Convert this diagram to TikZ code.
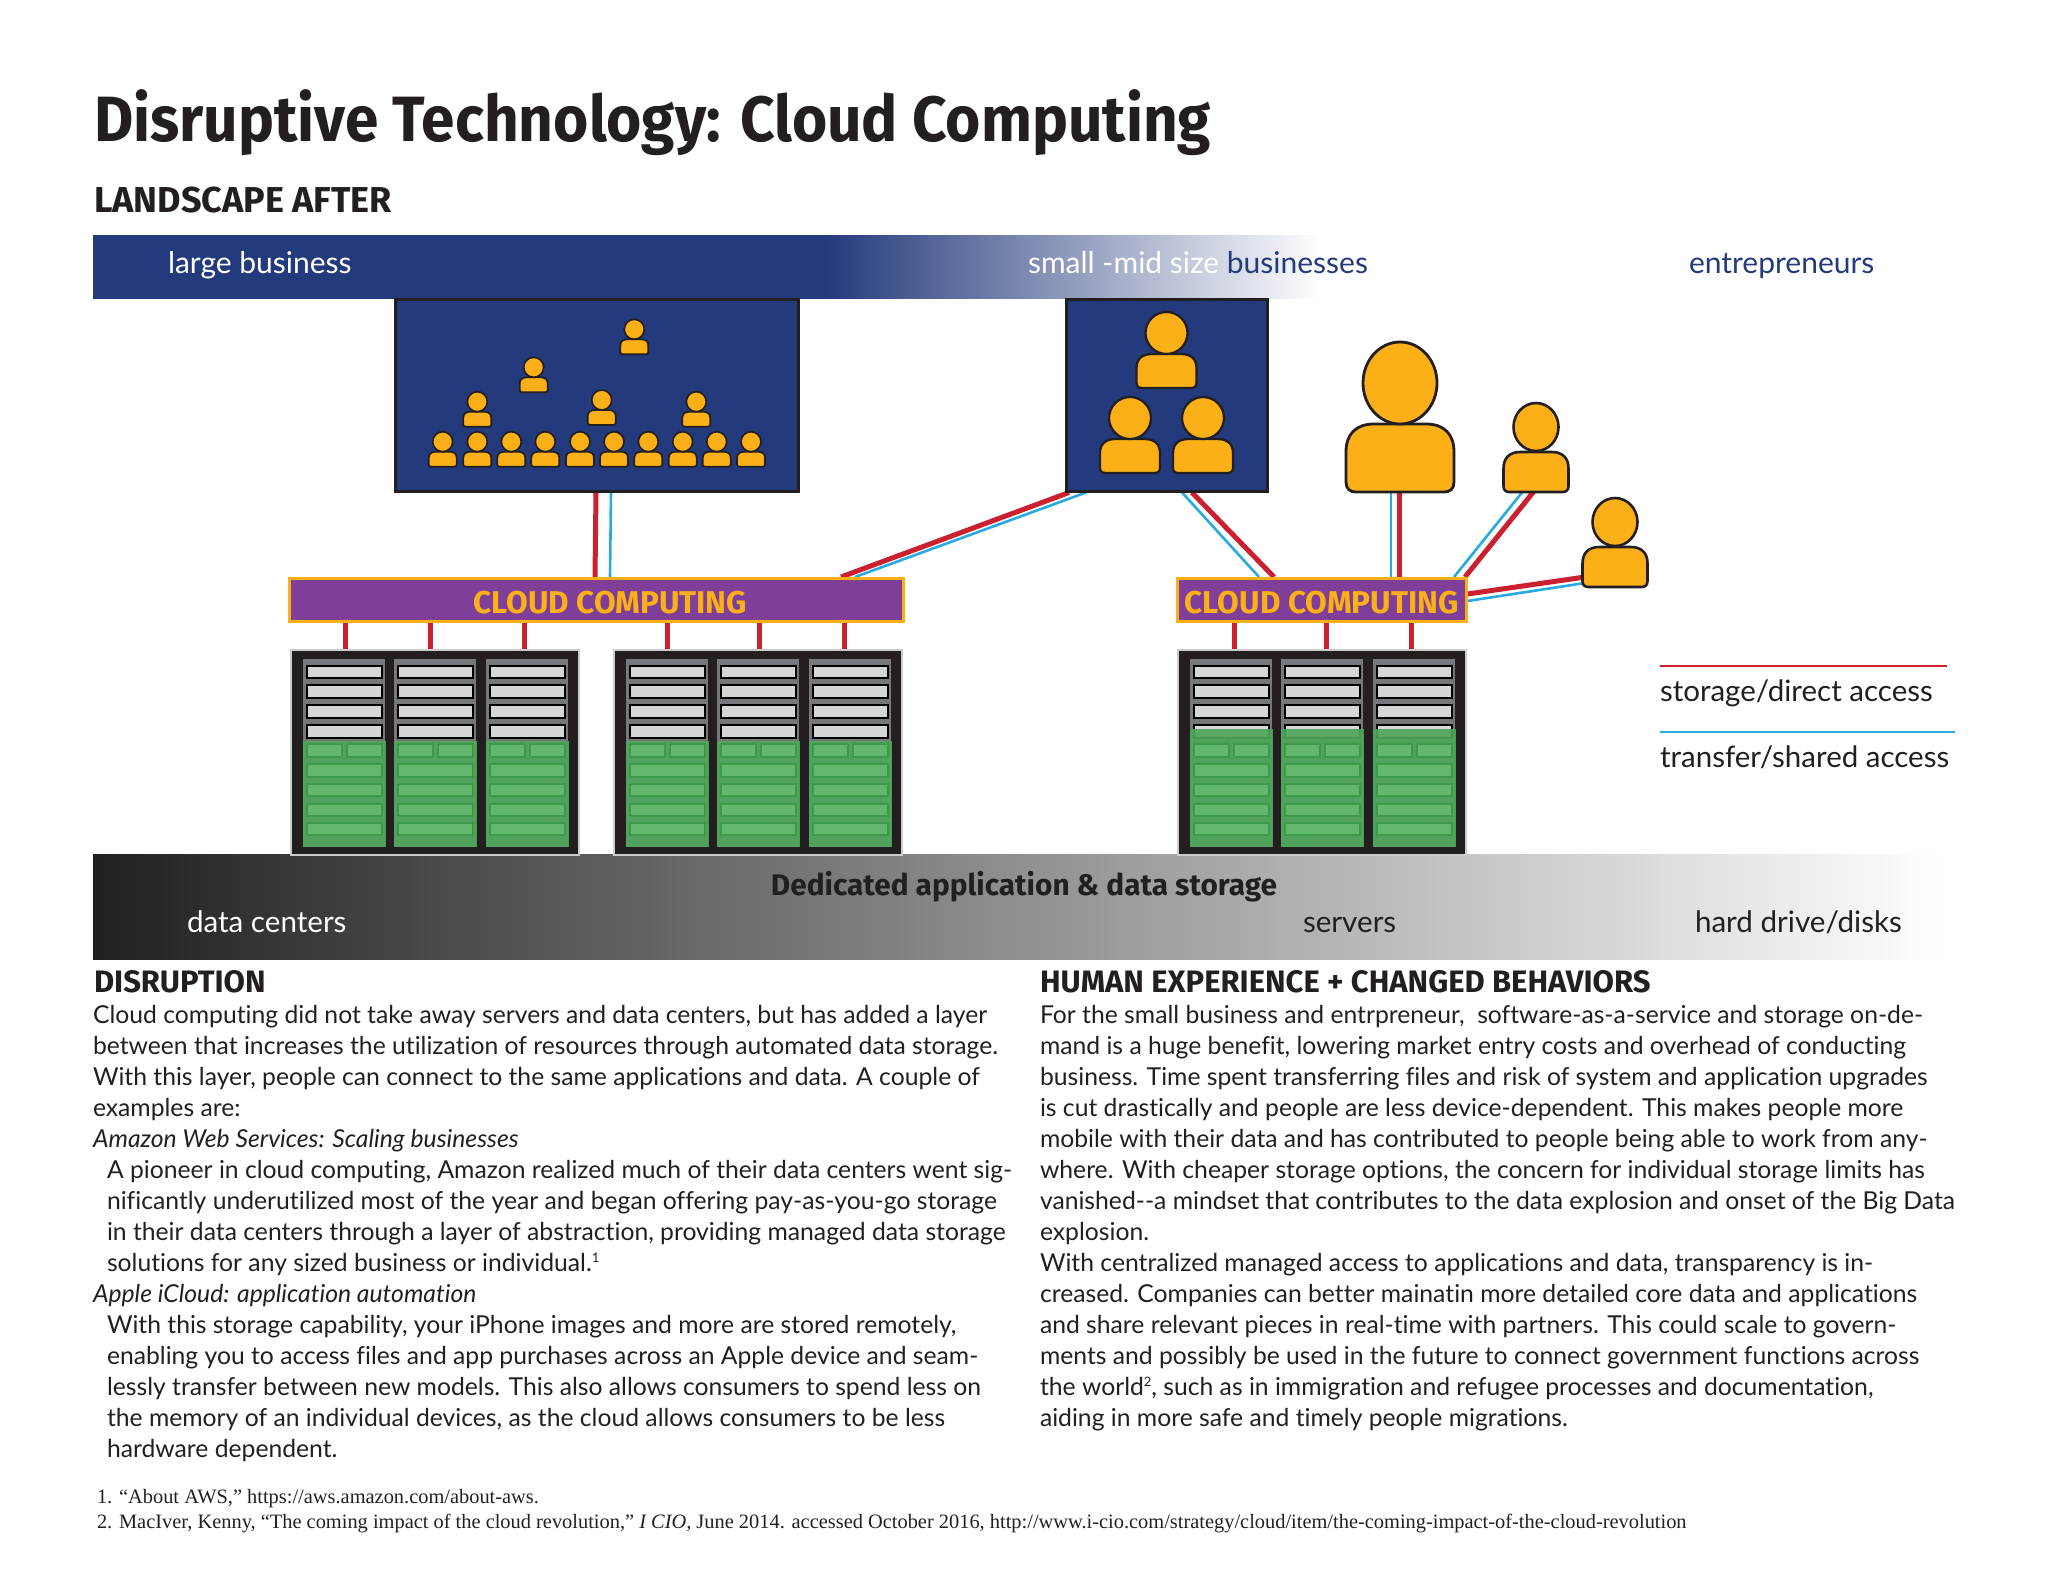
\documentclass[tikz,border=0pt]{standalone}
\usepackage{fontspec}
\usetikzlibrary{calc,backgrounds}
\setmainfont[Ligatures={TeX,NoCommon}]{Lato}
\newfontfamily\serifnote{Liberation Serif}
\newfontfamily\heavy[FakeStretch=0.943]{Fira Sans}
\newfontfamily\capsfont{Fira Sans}
\definecolor{ink}{HTML}{231F20}
\definecolor{navy}{HTML}{233A7C}
\definecolor{amber}{HTML}{FBB017}
\definecolor{plum}{HTML}{7F3F98}
\definecolor{linkred}{HTML}{CB2030}
\definecolor{linkblue}{HTML}{27AAE1}
\definecolor{rackgrey}{HTML}{77787B}
\definecolor{slotgrey}{HTML}{D6D6D8}
\definecolor{greenbase}{HTML}{4EA65A}
\definecolor{greenslot}{HTML}{64B86E}
\definecolor{greenedge}{HTML}{3D9A48}
\pgfdeclarehorizontalshading{topfade}{100bp}{color(0bp)=(navy); color(54.7bp)=(navy); color(75bp)=(white); color(100bp)=(white)}
\tikzset{
  x=1pt,y=-1pt,
  txt/.style={inner sep=0pt,outer sep=0pt,anchor=base west,text=ink},
  para/.style={txt,align=left,font=\fontsize{24.7}{31}\selectfont},
  head/.style={txt,font=\capsfont\fontsize{31}{31}\selectfont\bfseries},
  bandtxt/.style={txt,font=\fontsize{29.6}{31}\selectfont},
  toptxt/.style={txt,font=\fontsize{30}{31}\selectfont},
  note/.style={txt,align=left,font=\serifnote\fontsize{20.4}{25}\selectfont},
  cloudbar/.style={draw=amber,fill=plum,line width=2.5pt,inner sep=0pt,anchor=north west,text=amber,font=\capsfont\fontsize{31.5}{31}\selectfont\bfseries},
  bluebox/.style={draw=ink,fill=navy,line width=2.5pt,inner sep=0pt,anchor=north west},
  rackbox/.style={draw=black!20,fill=ink,line width=2pt,inner sep=0pt,anchor=north west,minimum width=288pt,minimum height=205pt},
  redlink/.style={draw=linkred,line width=5pt},
  bluelink/.style={draw=linkblue,line width=2.6pt},
}
\newcommand{\supmark}[1]{\raisebox{9pt}{\fontsize{13}{13}\selectfont #1}}
\newcommand{\personicon}[9]{%
  \coordinate (#1) at (#2,#3);
  \begin{scope}[shift={(#2,#3)}]
    \filldraw[fill=amber,draw=ink,line width=#9pt,xscale=#4/108,yscale=#5/68]
      (-54,-10) -- (-54,-40) .. controls (-54,-58) and (-44,-68) .. (-26,-68) -- (26,-68)
      .. controls (44,-68) and (54,-58) .. (54,-40) -- (54,-10)
      .. controls (54,-3) and (50,0) .. (44,0) -- (-44,0)
      .. controls (-50,0) and (-54,-3) .. (-54,-10) -- cycle;
    \filldraw[fill=amber,draw=ink,line width=#9pt] (0,-#6) ellipse [x radius=#7,y radius=#8];
  \end{scope}}
\newcommand{\tinyperson}[3]{\personicon{#1}{#2}{#3}{28}{15}{25}{10}{10}{1.7}}
\newcommand{\rackunit}[4]{%
  \node[rackbox] (#1) at (#2-1.5,649) {};
  \begin{scope}[shift={(#2,650)}]
    \foreach \c in {12,103,195}{
      \fill[rackgrey] (\c,9) rectangle (\c+82,197);
      \foreach \a/\b in {16/28,35/48,55/68,75/88}
        \filldraw[fill=slotgrey,draw=black,line width=1.8pt] (\c+4,\a) rectangle (\c+79,\b);
      \fill[greenbase,opacity=.92] (\c,#3) rectangle (\c+83,197);
      \foreach \a/\b in {114/127,134/146,154/166,173/185}
        \filldraw[fill=greenslot,draw=greenedge,line width=1.6pt] (\c+4,\a) rectangle (\c+79,\b);
      \filldraw[fill=greenslot,draw=greenedge,line width=1.6pt] (\c+4,94) rectangle (\c+39,107);
      \filldraw[fill=greenslot,draw=greenedge,line width=1.6pt] (\c+44,94) rectangle (\c+79,107);
    }
  \end{scope}}
\begin{document}
\begin{tikzpicture}
\useasboundingbox (0,0) rectangle (2048,1582);

% title block
\node[txt,font=\heavy\fontsize{64}{70}\selectfont\bfseries] (title) at (94,141) {Disruptive Technology: Cloud Computing};
\node[txt,font=\capsfont\fontsize{36}{36}\selectfont\bfseries] (subtitle) at (94,212) {LANDSCAPE AFTER};

% top band
\shade[shading=topfade] (93,235) rectangle (1322,298);
\node[toptxt,text=white] (lblLarge) at (168,273) {large business};
\node[toptxt,text=white] (lblSmall) at (1028,273) {small -mid size \textcolor{navy}{businesses}};
\node[toptxt,text=navy] (lblEntre) at (1689,273) {entrepreneurs};

% bottom band
\fill[left color=ink,right color=white] (93,854) rectangle (1945,959);
\node[txt,anchor=base,font=\capsfont\fontsize{29.8}{31}\selectfont\bfseries] (lblDedicated) at (1024,895) {Dedicated application \& data storage};
\node[bandtxt,text=white] (lblData) at (187,932) {data centers};
\node[bandtxt] (lblServers) at (1303,932) {servers};
\node[bandtxt] (lblDisks) at (1695,932) {hard drive/disks};

% customer boxes
\node[bluebox,minimum width=403pt,minimum height=192pt] (boxLarge) at (394,298) {};
\node[bluebox,minimum width=201pt,minimum height=192pt] (boxMid) at (1065,298) {};

\foreach \i/\x in {a/442.7,b/477.3,c/511.3,d/545.3,e/580,f/614,g/648.3,h/682.7,i/716.7,j/751}
  \tinyperson{tiny\i}{\x}{466.7};
\tinyperson{tinyk}{477.3}{426.7}
\tinyperson{tinyl}{601.7}{425}
\tinyperson{tinym}{696.3}{426.7}
\tinyperson{tinyn}{533.7}{392.3}
\tinyperson{tinyo}{634.3}{354.3}

\personicon{midTop}{1166.5}{388}{60}{34}{55}{21}{21}{2.3}
\personicon{midLeft}{1130}{473}{60}{34}{55}{21}{21}{2.3}
\personicon{midRight}{1203}{473}{60}{34}{55}{21}{21}{2.3}
\personicon{userBig}{1400}{492}{108}{68}{109}{37}{41}{2.8}
\personicon{userMid}{1536}{492}{65}{40}{65}{22.5}{24}{2.6}
\personicon{userLow}{1615}{587}{65}{40}{65}{22.5}{24}{2.6}

% cloud bars
\node[cloudbar,minimum width=614pt,minimum height=43pt] (cloudL) at (288,577) {\hspace*{28pt}\rule{0pt}{28pt}CLOUD COMPUTING};
\node[cloudbar,minimum width=289pt,minimum height=43pt] (cloudR) at (1176,577) {\rule{0pt}{28pt}CLOUD COMPUTING};

% racks
\rackunit{rackA}{291}{91}{}
\rackunit{rackB}{614}{91}{}
\rackunit{rackC}{1178}{79}{}

% legend
\coordinate (legRedA) at (1660,666);
\coordinate (legRedB) at (1947,666);
\coordinate (legBlueA) at (1660,732);
\coordinate (legBlueB) at (1955,732);
\draw[draw=linkred,line width=2.6pt] (legRedA) -- (legRedB);
\draw[draw=linkblue,line width=2.6pt] (legBlueA) -- (legBlueB);
\node[txt,font=\fontsize{29.5}{31}\selectfont] (legStore) at (1660,701) {storage/direct access};
\node[txt,font=\fontsize{29.5}{31}\selectfont] (legTrans) at (1660,767) {transfer/shared access};

% connectors
\begin{scope}[on background layer]
  \draw[redlink] ($(boxLarge.south west)+(202,0)$) -- ($(cloudL.north west)+(307,0)$);
  \draw[bluelink] ($(boxLarge.south west)+(217,0)$) -- ($(cloudL.north west)+(322,0)$);
  \draw[redlink] ($(boxMid.south west)+(4,0)$) -- ($(cloudL.north west)+(553,0)$);
  \draw[bluelink] ($(boxMid.south west)+(21,0)$) -- ($(cloudL.north west)+(567,0)$);
  \draw[redlink] ($(boxMid.south west)+(127,0)$) -- ($(cloudR.north west)+(98,0)$);
  \draw[bluelink] ($(boxMid.south west)+(117,0)$) -- ($(cloudR.north west)+(83,0)$);
  \draw[redlink] ($(userBig)+(-1,0)$) -- ($(cloudR.north west)+(223,0)$);
  \draw[bluelink] ($(userBig)+(-9,0)$) -- ($(cloudR.north west)+(215,0)$);
  \draw[redlink] ($(userMid)+(-1,-2)$) -- ($(cloudR.north west)+(289,0)$);
  \draw[bluelink] ($(userMid)+(-12,-2)$) -- ($(cloudR.north west)+(278,0)$);
  \draw[redlink] ($(userLow)+(-30,-10)$) -- ($(cloudR.north east)+(0,17)$);
  \draw[bluelink] ($(userLow)+(-30,-4)$) -- ($(cloudR.north east)+(0,24)$);
  \foreach \o in {57,142,236} \draw[redlink] ($(cloudL.south west)+(\o,0)$) -- ($(rackA.north west)+(\o-1.5,0)$);
  \foreach \o in {379.5,471.5,556.5} \draw[redlink] ($(cloudL.south west)+(\o,0)$) -- ($(rackB.north west)+(\o-324.5,0)$);
  \foreach \o in {58.5,150.5,235.5} \draw[redlink] ($(cloudR.south west)+(\o,0)$) -- ($(rackC.north west)+(\o-0.5,0)$);
\end{scope}

% left column
\node[head] (hDisruption) at (94,992) {DISRUPTION};
\node[para] (pDisruption) at (93,1116) {Cloud computing did not take away servers and data centers, but has added a layer\\
between that increases the utilization of resources through automated data storage.\\
With this layer, people can connect to the same applications and data. A couple of\\
examples are:};
\node[para] (hAmazon) at (93,1147) {\itshape Amazon Web Services: Scaling businesses};
\node[para] (pAmazon) at (107,1271) {A pioneer in cloud computing, Amazon realized much of their data centers went sig-\\
nificantly underutilized most of the year and began offering pay-as-you-go storage\\
in their data centers through a layer of abstraction, providing managed data storage\\
solutions for any sized business or individual.\supmark{1}};
\node[para] (hApple) at (93,1302) {\itshape Apple iCloud: application automation};
\node[para] (pApple) at (107,1457) {With this storage capability, your iPhone images and more are stored remotely,\\
enabling you to access files and app purchases across an Apple device and seam-\\
lessly transfer between new models. This also allows consumers to spend less on\\
the memory of an individual devices, as the cloud allows consumers to be less\\
hardware dependent.};

% right column
\node[head] (hHuman) at (1040,992) {HUMAN EXPERIENCE + CHANGED BEHAVIORS};
\node[para] (pHumanA) at (1040,1240) {For the small business and entrpreneur,\ \ software-as-a-service and storage on-de-\\
mand is a huge benefit, lowering market entry costs and overhead of conducting\\
business. Time spent transferring files and risk of system and application upgrades\\
is cut drastically and people are less device-dependent. This makes people more\\
mobile with their data and has contributed to people being able to work from any-\\
where. With cheaper storage options, the concern for individual storage limits has\\
vanished-{}-a mindset that contributes to the data explosion and onset of the Big Data\\
explosion.};
\node[para] (pHumanB) at (1040,1426) {With centralized managed access to applications and data, transparency is in-\\
creased. Companies can better mainatin more detailed core data and applications\\
and share relevant pieces in real-time with partners. This could scale to govern-\\
ments and possibly be used in the future to connect government functions across\\
the world\supmark{2}, such as in immigration and refugee processes and documentation,\\
aiding in more safe and timely people migrations.};

% footnotes
\node[note] (notes) at (97,1528) {1. “About AWS,” https://aws.amazon.com/about-aws.\\
2. MacIver, Kenny, “The coming impact of the cloud revolution,” \textit{I CIO,} June 2014. accessed October 2016, http://www.i-cio.com/strategy/cloud/item/the-coming-impact-of-the-cloud-revolution};
\end{tikzpicture}
\end{document}
